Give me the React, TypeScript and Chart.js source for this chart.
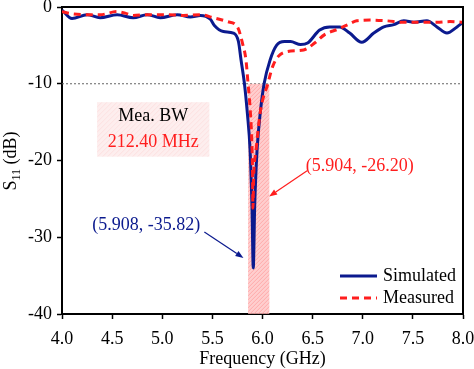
import React, { useEffect, useRef } from 'react';
import { Chart, registerables } from 'chart.js';
Chart.register(...registerables);

// ---- data ----
const simFreq = [4.00, 4.10, 4.25, 4.38, 4.55, 4.71, 4.85, 4.98, 5.15, 5.28, 5.38, 5.48, 5.52, 5.61, 5.71, 5.76, 5.786, 5.82, 5.85, 5.876, 5.895, 5.908, 5.922, 5.946, 5.98, 6.016, 6.076, 6.14, 6.22, 6.28, 6.38, 6.45, 6.57, 6.67, 6.77, 6.87, 6.99, 7.11, 7.21, 7.31, 7.41, 7.51, 7.64, 7.74, 7.84, 7.94, 8.00];
const simS11 = [-0.4, -1.5, -1.0, -1.4, -1.0, -1.4, -1.0, -1.4, -1.0, -1.3, -1.1, -1.6, -2.4, -3.2, -3.4, -4.5, -6.9, -10, -14, -18.6, -26, -34, -26, -18.6, -13.5, -10, -6.9, -5.0, -4.5, -4.5, -4.9, -4.7, -3.0, -2.6, -2.6, -3.4, -4.6, -3.4, -2.6, -2.3, -1.8, -2.0, -1.8, -2.6, -3.4, -2.6, -2.0];

const measFreq = [4.00, 4.11, 4.25, 4.38, 4.55, 4.63, 4.71, 4.85, 5.05, 5.21, 5.38, 5.51, 5.65, 5.75, 5.80, 5.835, 5.856, 5.878, 5.896, 5.901, 5.904, 5.912, 5.936, 5.98, 6.053, 6.10, 6.16, 6.25, 6.41, 6.52, 6.62, 6.75, 6.85, 6.94, 7.07, 7.24, 7.41, 7.57, 7.74, 7.87, 8.00];
const measS11 = [-0.6, -0.9, -1.0, -1.0, -0.6, -0.8, -1.1, -1.0, -1.0, -1.1, -1.0, -1.4, -1.9, -2.6, -4.7, -6.9, -10, -13.5, -18.6, -22, -26.2, -22, -18.6, -13.5, -10, -7.8, -6.4, -5.8, -5.6, -4.7, -3.6, -2.9, -2.3, -1.8, -1.7, -1.8, -2.0, -2.0, -2.0, -1.9, -2.0];

const seriesNames = ['Simulated', 'Measured'];
const bwRange = [5.856, 6.068];
const bwLevel = -10;
const bwText = ['Mea. BW', '212.40 MHz'];
const simMinLabel = '(5.908, -35.82)';
const measMinLabel = '(5.904, -26.20)';

const BLUE = '#0b1a8e';
const RED = '#ff1e1e';
const FONT = '"Liberation Serif", "Times New Roman", serif';

function hatch(ctx: CanvasRenderingContext2D, x0: number, y0: number, w: number, h: number, color: string, step: number) {
  ctx.save();
  ctx.beginPath();
  ctx.rect(x0, y0, w, h);
  ctx.clip();
  ctx.strokeStyle = color;
  ctx.lineWidth = 1;
  ctx.beginPath();
  for (let k = -h; k < w + h; k += step) {
    ctx.moveTo(x0 + k, y0 + h);
    ctx.lineTo(x0 + k + h, y0);
  }
  ctx.stroke();
  ctx.restore();
}

function arrow(ctx: CanvasRenderingContext2D, x1: number, y1: number, x2: number, y2: number, color: string) {
  const ang = Math.atan2(y2 - y1, x2 - x1);
  const L = 8, W = 3;
  ctx.save();
  ctx.strokeStyle = color;
  ctx.fillStyle = color;
  ctx.lineWidth = 1.2;
  ctx.beginPath();
  ctx.moveTo(x1, y1);
  ctx.lineTo(x2 - L * Math.cos(ang), y2 - L * Math.sin(ang));
  ctx.stroke();
  ctx.beginPath();
  ctx.moveTo(x2, y2);
  ctx.lineTo(x2 - L * Math.cos(ang) + W * Math.sin(ang), y2 - L * Math.sin(ang) - W * Math.cos(ang));
  ctx.lineTo(x2 - L * Math.cos(ang) - W * Math.sin(ang), y2 - L * Math.sin(ang) + W * Math.cos(ang));
  ctx.closePath();
  ctx.fill();
  ctx.restore();
}

const overlay = {
  id: 'overlay',
  beforeDatasetsDraw(chart: any) {
    const { ctx, chartArea: a, scales } = chart;
    const x = scales.x, y = scales.y;
    ctx.save();
    // -10 dB reference line
    const yl = y.getPixelForValue(bwLevel);
    ctx.strokeStyle = '#666';
    ctx.lineWidth = 1;
    ctx.setLineDash([2, 2]);
    ctx.beginPath();
    ctx.moveTo(a.left, yl);
    ctx.lineTo(a.right, yl);
    ctx.stroke();
    ctx.setLineDash([]);
    // bandwidth region
    const x0 = x.getPixelForValue(bwRange[0]);
    const x1 = x.getPixelForValue(bwRange[1]);
    ctx.fillStyle = 'rgba(255,190,190,0.75)';
    ctx.fillRect(x0, yl, x1 - x0, a.bottom - yl);
    hatch(ctx, x0, yl, x1 - x0, a.bottom - yl, 'rgba(255,140,140,0.55)', 4);
    // text box
    const bx0 = x.getPixelForValue(4.35), bx1 = x.getPixelForValue(5.47);
    const by0 = y.getPixelForValue(-12.4), by1 = y.getPixelForValue(-19.5);
    ctx.fillStyle = '#fdeeee';
    ctx.fillRect(bx0, by0, bx1 - bx0, by1 - by0);
    hatch(ctx, bx0, by0, bx1 - bx0, by1 - by0, 'rgba(255,200,200,0.35)', 5);
    ctx.font = `18px ${FONT}`;
    ctx.textAlign = 'center';
    ctx.textBaseline = 'middle';
    const cx = (bx0 + bx1) / 2;
    ctx.fillStyle = '#000';
    ctx.fillText(bwText[0], cx, y.getPixelForValue(-14.3));
    ctx.fillStyle = RED;
    ctx.fillText(bwText[1], cx, y.getPixelForValue(-17.6));
    ctx.restore();
  },
  afterDraw(chart: any) {
    const { ctx, chartArea: a, scales } = chart;
    const x = scales.x, y = scales.y;
    ctx.save();
    // top & right frame
    ctx.strokeStyle = '#000';
    ctx.lineWidth = 2;
    ctx.beginPath();
    ctx.moveTo(a.left, a.top);
    ctx.lineTo(a.right, a.top);
    ctx.lineTo(a.right, a.bottom);
    ctx.stroke();
    // annotations
    ctx.font = `18px ${FONT}`;
    ctx.textAlign = 'center';
    ctx.textBaseline = 'middle';
    ctx.fillStyle = BLUE;
    ctx.fillText(simMinLabel, x.getPixelForValue(4.84), y.getPixelForValue(-28.5));
    arrow(ctx, x.getPixelForValue(5.42), y.getPixelForValue(-29.3), x.getPixelForValue(5.81), y.getPixelForValue(-32.7), BLUE);
    ctx.fillStyle = RED;
    ctx.fillText(measMinLabel, x.getPixelForValue(6.97), y.getPixelForValue(-20.8));
    arrow(ctx, x.getPixelForValue(6.445), y.getPixelForValue(-21.35), x.getPixelForValue(6.066), y.getPixelForValue(-24.7), RED);
    // legend
    const lx0 = a.right - 123, lx1 = a.right - 86, tx = a.right - 80;
    const ly = [a.bottom - 38, a.bottom - 16];
    ctx.lineWidth = 3;
    ctx.strokeStyle = BLUE;
    ctx.beginPath(); ctx.moveTo(lx0, ly[0]); ctx.lineTo(lx1, ly[0]); ctx.stroke();
    ctx.strokeStyle = RED;
    ctx.setLineDash([7, 5]);
    ctx.beginPath(); ctx.moveTo(lx0, ly[1]); ctx.lineTo(lx1, ly[1]); ctx.stroke();
    ctx.setLineDash([]);
    ctx.fillStyle = '#000';
    ctx.textAlign = 'left';
    ctx.fillText(seriesNames[0], tx, ly[0]);
    ctx.fillText(seriesNames[1], tx, ly[1]);
    // x title
    ctx.textAlign = 'center';
    ctx.textBaseline = 'alphabetic';
    ctx.fillText('Frequency (GHz)', (a.left + a.right) / 2, 364);
    // y title with subscript
    ctx.translate(16, 161);
    ctx.rotate(-Math.PI / 2);
    ctx.font = `18px ${FONT}`;
    const wS = ctx.measureText('S').width;
    const wRest = ctx.measureText(' (dB)').width;
    ctx.font = `12px ${FONT}`;
    const wSub = ctx.measureText('11').width;
    const total = wS + wSub + wRest;
    let px = -total / 2;
    ctx.textAlign = 'left';
    ctx.font = `18px ${FONT}`;
    ctx.fillText('S', px, 0);
    px += wS;
    ctx.font = `12px ${FONT}`;
    ctx.fillText('11', px, 4);
    px += wSub;
    ctx.font = `18px ${FONT}`;
    ctx.fillText(' (dB)', px, 0);
    ctx.restore();
  },
};

export default function App() {
  const ref = useRef<HTMLCanvasElement>(null);
  useEffect(() => {
    document.body.style.margin = '0';
    const chart = new Chart(ref.current as HTMLCanvasElement, {
      type: 'line',
      data: {
        datasets: [
          {
            label: seriesNames[1],
            data: measFreq.map((f, i) => ({ x: f, y: measS11[i] })),
            borderColor: RED,
            borderWidth: 3,
            borderDash: [7, 5],
            pointRadius: 0,
            cubicInterpolationMode: 'monotone',
            fill: false,
          },
          {
            label: seriesNames[0],
            data: simFreq.map((f, i) => ({ x: f, y: simS11[i] })),
            borderColor: BLUE,
            borderWidth: 3,
            pointRadius: 0,
            cubicInterpolationMode: 'monotone',
            fill: false,
          },
        ],
      },
      options: {
        animation: false,
        responsive: false,
        layout: { padding: { top: 7, right: 11, left: 0, bottom: 0 } },
        plugins: { legend: { display: false }, tooltip: { enabled: false } },
        scales: {
          x: {
            type: 'linear',
            min: 4,
            max: 8,
            ticks: {
              stepSize: 0.5,
              color: '#000',
              font: { family: FONT, size: 18 },
              padding: 9,
              maxRotation: 0,
              callback: (v: any) => Number(v).toFixed(1),
            },
            grid: { drawOnChartArea: false, drawTicks: true, tickLength: 5, tickWidth: 1.5, tickColor: '#000' },
            border: { display: true, color: '#000', width: 2 },
            afterFit: (s: any) => { s.height = 55; s.paddingLeft = 0; s.paddingRight = 0; },
          },
          y: {
            type: 'linear',
            min: -40,
            max: 0,
            ticks: {
              stepSize: 10,
              color: '#000',
              font: { family: FONT, size: 18 },
              padding: 5,
            },
            grid: { drawOnChartArea: false, drawTicks: true, tickLength: 5, tickWidth: 1.5, tickColor: '#000' },
            border: { display: true, color: '#000', width: 2 },
            afterFit: (s: any) => { s.width = 62; s.paddingTop = 0; s.paddingBottom = 0; },
          },
        },
      } as any,
      plugins: [overlay],
    });
    return () => chart.destroy();
  }, []);
  return (
    <div style={{ position: 'absolute', left: 0, top: 0, width: 474, height: 369, background: '#fff' }}>
      <canvas ref={ref} width={474} height={369} style={{ display: 'block' }} />
    </div>
  );
}
